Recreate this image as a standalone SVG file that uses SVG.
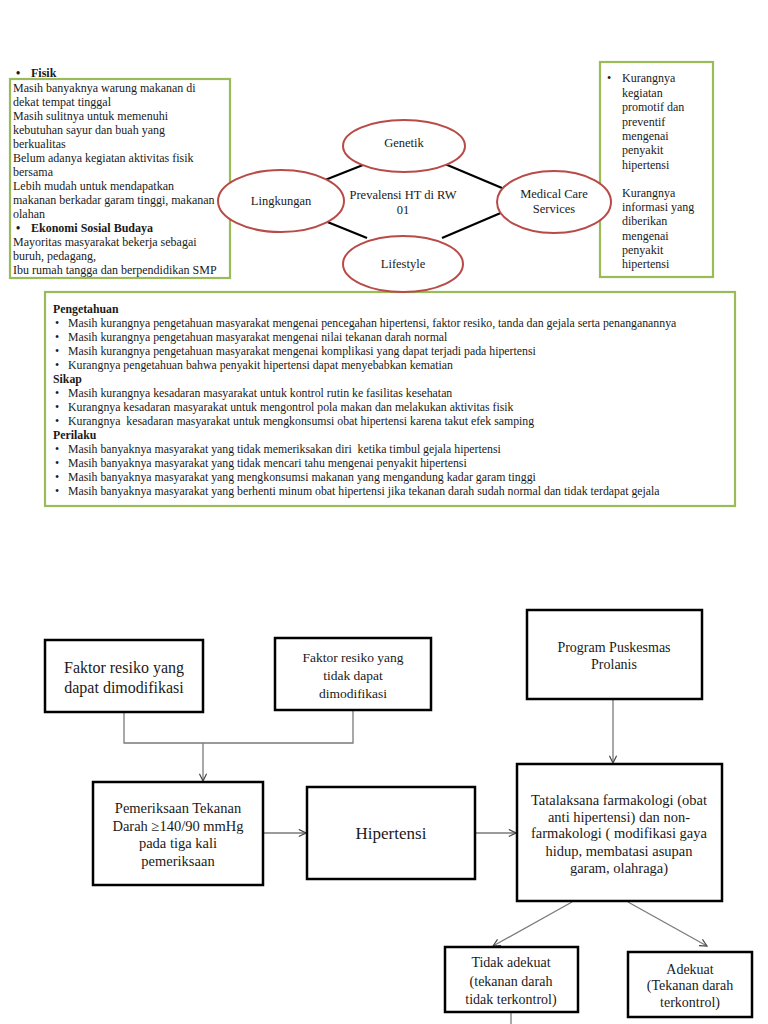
<svg xmlns="http://www.w3.org/2000/svg" width="768" height="1024" viewBox="0 0 768 1024">
<style>
.t{font-family:"Liberation Serif","Times New Roman",serif;font-size:12px;fill:#1a1a1a}
.s{font-size:11.8px}
.b{font-weight:bold}
.gbox{fill:#fff;stroke:#9bbb59;stroke-width:2.2}
.ell{fill:#fff;stroke:#b84a47;stroke-width:2}
.el{font-family:"Liberation Serif","Times New Roman",serif;font-size:12.5px;fill:#1a1a1a;text-anchor:middle}
.box{fill:#fff;stroke:#000;stroke-width:2.5}
.ft{font-family:"Liberation Serif","Times New Roman",serif;fill:#1a1a1a;text-anchor:middle}
.con{fill:none;stroke:#7a7a7a;stroke-width:1.3}
.blk{fill:none;stroke:#000;stroke-width:2.2}
</style>
<defs>
<marker id="arr" viewBox="0 0 10 10" refX="9" refY="5" markerWidth="9" markerHeight="9" markerUnits="userSpaceOnUse" orient="auto">
<path d="M1,1 L9,5 L1,9" fill="none" stroke="#444" stroke-width="1.3"/>
</marker>
</defs>
<rect width="768" height="1024" fill="#fff"/>

<g id="lingkungan-box">
<rect class="gbox" x="10" y="79" width="220" height="199"/>
<text class="t b" x="16" y="77">•</text>
<text class="t b" x="31" y="77">Fisik</text>
<text class="t" x="13" y="92">Masih banyaknya warung makanan di</text>
<text class="t" x="13" y="106">dekat tempat tinggal</text>
<text class="t" x="13" y="120">Masih sulitnya untuk memenuhi</text>
<text class="t" x="13" y="134">kebutuhan sayur dan buah yang</text>
<text class="t" x="13" y="148">berkualitas</text>
<text class="t" x="13" y="162">Belum adanya kegiatan aktivitas fisik</text>
<text class="t" x="13" y="176">bersama</text>
<text class="t" x="13" y="190">Lebih mudah untuk mendapatkan</text>
<text class="t" x="13" y="204">makanan berkadar garam tinggi, makanan</text>
<text class="t" x="13" y="218">olahan</text>
<text class="t b" x="16" y="232">•</text>
<text class="t b" x="31" y="232">Ekonomi Sosial Budaya</text>
<text class="t" x="13" y="246">Mayoritas masyarakat bekerja sebagai</text>
<text class="t" x="13" y="260">buruh, pedagang,</text>
<text class="t" x="13" y="274">Ibu rumah tangga dan berpendidikan SMP</text>
</g>

<g id="medical-box">
<rect class="gbox" x="600" y="62" width="113" height="215"/>
<text class="t" x="607" y="82">•</text>
<text class="t" x="622" y="82">Kurangnya</text>
<text class="t" x="622" y="97">kegiatan</text>
<text class="t" x="622" y="111">promotif dan</text>
<text class="t" x="622" y="126">preventif</text>
<text class="t" x="622" y="140">mengenai</text>
<text class="t" x="622" y="154">penyakit</text>
<text class="t" x="622" y="169">hipertensi</text>
<text class="t" x="622" y="197">Kurangnya</text>
<text class="t" x="622" y="211">informasi yang</text>
<text class="t" x="622" y="225">diberikan</text>
<text class="t" x="622" y="240">mengenai</text>
<text class="t" x="622" y="254">penyakit</text>
<text class="t" x="622" y="268">hipertensi</text>
</g>

<g id="ellipse-connectors">
<line class="blk" x1="325" y1="180" x2="363" y2="165"/>
<line class="blk" x1="445" y1="164" x2="502" y2="188"/>
<line class="blk" x1="325" y1="221" x2="367" y2="238"/>
<line class="blk" x1="442" y1="238" x2="503" y2="212"/>
</g>

<g id="center">
<text class="el" x="403" y="199">Prevalensi HT di RW</text>
<text class="el" x="403" y="214">01</text>
</g>

<g id="genetik">
<ellipse class="ell" cx="404" cy="146" rx="61" ry="26"/>
<text class="el" x="404" y="147">Genetik</text>
</g>
<g id="lingkungan">
<ellipse class="ell" cx="281" cy="201" rx="63" ry="31"/>
<text class="el" x="281" y="205">Lingkungan</text>
</g>
<g id="medical">
<ellipse class="ell" cx="554" cy="202" rx="57" ry="31"/>
<text class="el" x="554" y="198">Medical Care</text>
<text class="el" x="554" y="213">Services</text>
</g>

<g id="faktor-box">
<rect class="gbox" x="45" y="292" width="690" height="214" stroke-width="2.6"/>
<text class="t s b" x="53" y="313">Pengetahuan</text>
<text class="t s" x="55" y="327">•</text><text class="t s" x="68" y="327">Masih kurangnya pengetahuan masyarakat mengenai pencegahan hipertensi, faktor resiko, tanda dan gejala serta penanganannya</text>
<text class="t s" x="55" y="341">•</text><text class="t s" x="68" y="341">Masih kurangnya pengetahuan masyarakat mengenai nilai tekanan darah normal</text>
<text class="t s" x="55" y="355">•</text><text class="t s" x="68" y="355">Masih kurangnya pengetahuan masyarakat mengenai komplikasi yang dapat terjadi pada hipertensi</text>
<text class="t s" x="55" y="369">•</text><text class="t s" x="68" y="369">Kurangnya pengetahuan bahwa penyakit hipertensi dapat menyebabkan kematian</text>
<text class="t s b" x="53" y="383">Sikap</text>
<text class="t s" x="55" y="397">•</text><text class="t s" x="68" y="397">Masih kurangnya kesadaran masyarakat untuk kontrol rutin ke fasilitas kesehatan</text>
<text class="t s" x="55" y="411">•</text><text class="t s" x="68" y="411">Kurangnya kesadaran masyarakat untuk mengontrol pola makan dan melakukan aktivitas fisik</text>
<text class="t s" x="55" y="425">•</text><text class="t s" x="68" y="425" xml:space="preserve">Kurangnya  kesadaran masyarakat untuk mengkonsumsi obat hipertensi karena takut efek samping</text>
<text class="t s b" x="53" y="439">Perilaku</text>
<text class="t s" x="55" y="453">•</text><text class="t s" x="68" y="453" xml:space="preserve">Masih banyaknya masyarakat yang tidak memeriksakan diri  ketika timbul gejala hipertensi</text>
<text class="t s" x="55" y="467">•</text><text class="t s" x="68" y="467">Masih banyaknya masyarakat yang tidak mencari tahu mengenai penyakit hipertensi</text>
<text class="t s" x="55" y="481">•</text><text class="t s" x="68" y="481">Masih banyaknya masyarakat yang mengkonsumsi makanan yang mengandung kadar garam tinggi</text>
<text class="t s" x="55" y="495">•</text><text class="t s" x="68" y="495">Masih banyaknya masyarakat yang berhenti minum obat hipertensi jika tekanan darah sudah normal dan tidak terdapat gejala</text>
</g>

<g id="lifestyle">
<ellipse class="ell" cx="403" cy="264" rx="60" ry="28"/>
<text class="el" x="403" y="268">Lifestyle</text>
</g>

<g id="connectors">
<polyline class="con" points="124,712 124,743 353,743 353,710"/>
<line class="con" x1="203" y1="743" x2="203" y2="781" marker-end="url(#arr)"/>
<line class="con" x1="263" y1="833" x2="306" y2="833" marker-end="url(#arr)"/>
<line class="con" x1="475" y1="833" x2="516" y2="833" marker-end="url(#arr)"/>
<line class="con" x1="613" y1="699" x2="613" y2="763" marker-end="url(#arr)"/>
<line class="con" x1="572" y1="902" x2="493" y2="946" marker-end="url(#arr)"/>
<line class="con" x1="628" y1="902" x2="707" y2="946" marker-end="url(#arr)"/>
<line class="con" x1="511" y1="1012" x2="511" y2="1024"/>
</g>

<g id="faktor-modifikasi">
<rect class="box" x="45" y="640" width="158" height="72" stroke-width="3"/>
<text class="ft" x="124" y="673" font-size="16">Faktor resiko yang</text>
<text class="ft" x="124" y="693" font-size="16">dapat dimodifikasi</text>
</g>
<g id="faktor-tidak">
<rect class="box" x="275" y="638" width="156" height="72"/>
<text class="ft" x="353" y="662" font-size="13.5">Faktor resiko yang</text>
<text class="ft" x="353" y="680" font-size="13.5">tidak dapat</text>
<text class="ft" x="353" y="698" font-size="13.5">dimodifikasi</text>
</g>
<g id="pemeriksaan">
<rect class="box" x="93" y="782" width="170" height="103"/>
<text class="ft" x="178" y="813" font-size="14.5">Pemeriksaan Tekanan</text>
<text class="ft" x="178" y="831" font-size="14.5">Darah ≥140/90 mmHg</text>
<text class="ft" x="178" y="848" font-size="14.5">pada tiga kali</text>
<text class="ft" x="178" y="866" font-size="14.5">pemeriksaan</text>
</g>
<g id="hipertensi">
<rect class="box" x="307" y="787" width="168" height="92"/>
<text class="ft" x="391" y="839" font-size="17">Hipertensi</text>
</g>
<g id="prolanis">
<rect class="box" x="527" y="610" width="175" height="89"/>
<text class="ft" x="614" y="652" font-size="14">Program Puskesmas</text>
<text class="ft" x="614" y="669" font-size="14">Prolanis</text>
</g>
<g id="tatalaksana">
<rect class="box" x="517" y="764" width="205" height="137" stroke-width="3"/>
<text class="ft" x="619" y="805" font-size="14.5">Tatalaksana farmakologi (obat</text>
<text class="ft" x="619" y="822" font-size="14.5">anti hipertensi) dan non-</text>
<text class="ft" x="619" y="838" font-size="14.5">farmakologi ( modifikasi gaya</text>
<text class="ft" x="619" y="856" font-size="14.5">hidup, membatasi asupan</text>
<text class="ft" x="619" y="873" font-size="14.5">garam, olahraga)</text>
</g>
<g id="tidak-adekuat">
<rect class="box" x="445" y="947" width="133" height="65"/>
<text class="ft" x="511" y="967" font-size="14">Tidak adekuat</text>
<text class="ft" x="511" y="986" font-size="14">(tekanan darah</text>
<text class="ft" x="511" y="1004" font-size="14">tidak terkontrol)</text>
</g>
<g id="adekuat">
<rect class="box" x="628" y="952" width="124" height="65"/>
<text class="ft" x="690" y="974" font-size="14">Adekuat</text>
<text class="ft" x="690" y="990" font-size="14">(Tekanan darah</text>
<text class="ft" x="690" y="1007" font-size="14">terkontrol)</text>
</g>
</svg>
